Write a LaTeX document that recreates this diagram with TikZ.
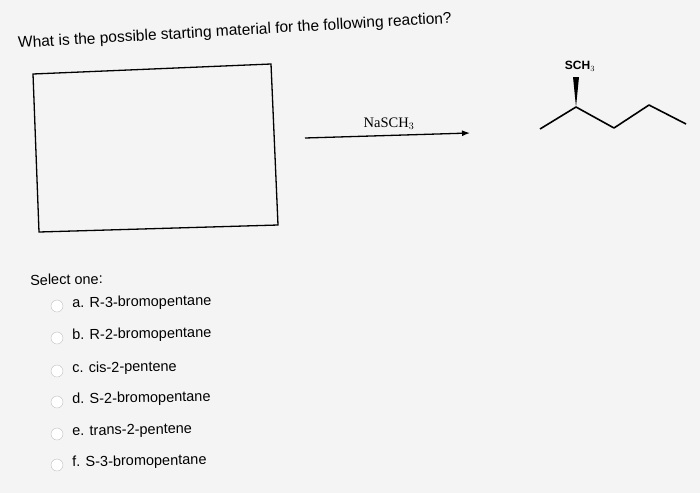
\documentclass[tikz,border=0pt]{standalone}
\usepackage{fontspec}
\usetikzlibrary{arrows.meta}
\setmainfont{Liberation Sans}
\newfontfamily\serifx{Liberation Serif}
\begin{document}
\begin{tikzpicture}[x=1pt,y=-1pt,
  txt/.style={anchor=west,inner sep=0pt,font=\fontsize{14.5}{16}\selectfont,rotate=1},
  radio/.style={circle,draw=gray!50,fill=white,minimum size=12pt,inner sep=0pt},
  bond/.style={line width=1.6pt,line join=round}]
\fill[gray!9] (0,0) rectangle (700,493);
\useasboundingbox (0,0) rectangle (700,493);
\node[txt,rotate=2.3,font=\fontsize{15.5}{17}\selectfont] (q) at (18,44) {What is the possible starting material for the following reaction?};
\draw[line width=1.3pt] (33,74) -- (271,64) -- (278,225) -- (39,232) -- cycle;
\coordinate (a1) at (305,138);
\coordinate (a2) at (470,133);
\draw[line width=1.3pt,-{Latex[length=8pt,width=6pt]}] (a1) -- (a2);
\node[font=\serifx\fontsize{14.5}{16}\selectfont] (r) at (389,124) {NaSCH$_3$};
\coordinate (c1) at (540,129);
\coordinate (c2) at (576,107);
\coordinate (c3) at (614,128);
\coordinate (c4) at (649,105);
\coordinate (c5) at (686,124);
\draw[bond] (c1) -- (c2) -- (c3) -- (c4) -- (c5);
\fill (c2) -- (573,77) -- (579,77) -- cycle;
\node[font=\fontsize{12}{14}\selectfont\bfseries,inner sep=0pt] (s) at (580,66) {SCH$_3$};
\node[txt] (sel) at (30,280) {Select one:};
\foreach \y/\t [count=\i] in {304/a. R-3-bromopentane,336/b. R-2-bromopentane,369/c. cis-2-pentene,400/d. S-2-bromopentane,432/e. trans-2-pentene,463/f. S-3-bromopentane}{
  \node[radio] (o\i) at (57,\y+2) {};
  \node[txt] (t\i) at (72,\y) {\t};
}
\end{tikzpicture}
\end{document}
